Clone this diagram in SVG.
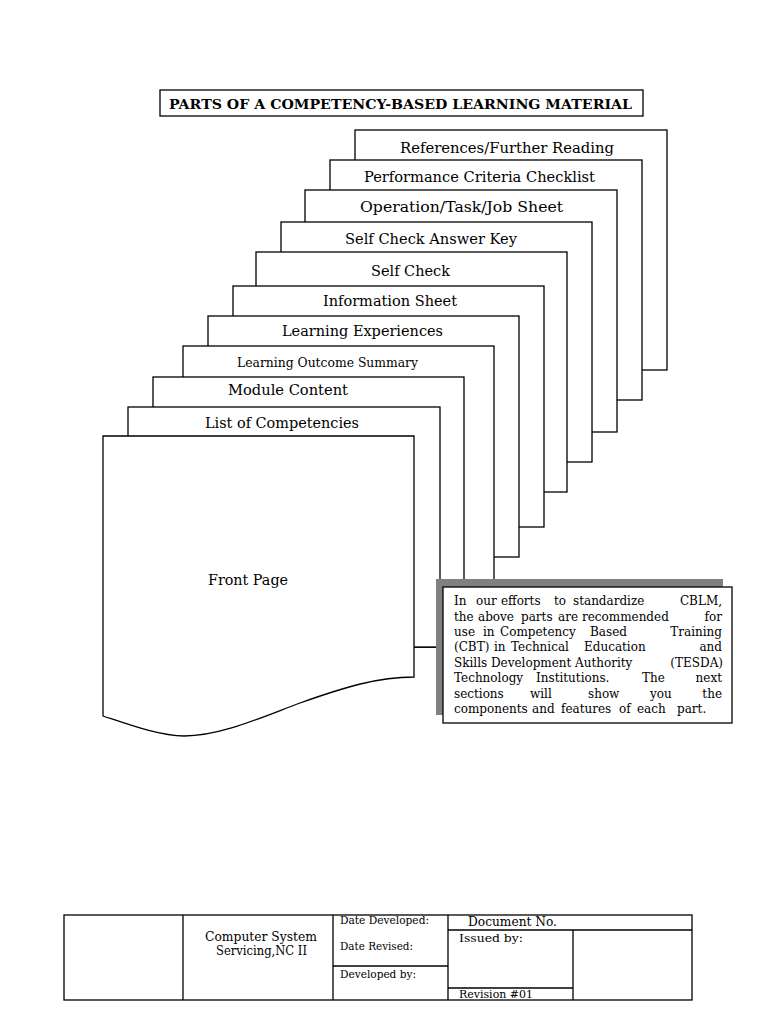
<svg xmlns="http://www.w3.org/2000/svg" width="768" height="1024" viewBox="0 0 768 1024">
<style>
.pg{fill:#fff;stroke:#000;stroke-width:1.3}
.ln{fill:none;stroke:#000;stroke-width:1.3}
.lbl{font-family:"DejaVu Serif","Liberation Serif",serif;font-size:14.5px;fill:#000}
.sm{font-family:"DejaVu Serif","Liberation Serif",serif;font-size:12px;fill:#000}
.ft{font-family:"DejaVu Serif","Liberation Serif",serif;font-size:11px;fill:#000}
.fb{font-family:"DejaVu Serif","Liberation Serif",serif;font-size:12.5px;fill:#000}
.ttl{font-family:"DejaVu Serif","Liberation Serif",serif;font-size:13px;font-weight:bold;fill:#000}
</style>
<rect width="768" height="1024" fill="#fff"/>
<g id="title">
<rect x="160" y="90" width="483" height="26" class="pg"/>
<text x="169" y="109" class="ttl" textLength="463" lengthAdjust="spacingAndGlyphs">PARTS OF A COMPETENCY-BASED LEARNING MATERIAL</text>
</g>
<g id="references">
<rect x="355" y="130" width="312" height="240" class="pg"/>
<text x="400" y="153" class="lbl" textLength="214" lengthAdjust="spacingAndGlyphs">References/Further Reading</text>
</g>
<g id="performance">
<rect x="330" y="160" width="312" height="240" class="pg"/>
<text x="364" y="182" class="lbl" textLength="231" lengthAdjust="spacingAndGlyphs">Performance Criteria Checklist</text>
</g>
<g id="operation">
<rect x="305" y="190" width="312" height="242" class="pg"/>
<text x="360" y="212" class="lbl" textLength="203" lengthAdjust="spacingAndGlyphs">Operation/Task/Job Sheet</text>
</g>
<g id="selfcheck-key">
<rect x="281" y="222" width="311" height="240" class="pg"/>
<text x="345" y="244" class="lbl" textLength="172" lengthAdjust="spacingAndGlyphs">Self Check Answer Key</text>
</g>
<g id="selfcheck">
<rect x="256" y="252" width="311" height="240" class="pg"/>
<text x="371" y="276" class="lbl" textLength="79" lengthAdjust="spacingAndGlyphs">Self Check</text>
</g>
<g id="information-sheet">
<rect x="233" y="286" width="311" height="241" class="pg"/>
<text x="323" y="306" class="lbl" textLength="134" lengthAdjust="spacingAndGlyphs">Information Sheet</text>
</g>
<g id="learning-experiences">
<rect x="208" y="316" width="311" height="241" class="pg"/>
<text x="282" y="336" class="lbl" textLength="161" lengthAdjust="spacingAndGlyphs">Learning Experiences</text>
</g>
<g id="learning-outcome-summary">
<rect x="183" y="346" width="311" height="301" class="pg"/>
<text x="237" y="367" class="sm" textLength="181" lengthAdjust="spacingAndGlyphs">Learning Outcome Summary</text>
</g>
<g id="module-content">
<rect x="153" y="377" width="311" height="270" class="pg"/>
<text x="228" y="395" class="lbl" textLength="120" lengthAdjust="spacingAndGlyphs">Module Content</text>
</g>
<g id="list-of-competencies">
<rect x="128" y="407" width="312" height="240" class="pg"/>
<text x="205" y="428" class="lbl" textLength="154" lengthAdjust="spacingAndGlyphs">List of Competencies</text>
</g>
<g id="front-page">
<path d="M103,436 H414 V677 C378,677 345,687 300,703 C260,718 220,736 184,736 C160,736 130,725 103,716 Z" class="pg"/>
<text x="208" y="585" class="lbl" textLength="80" lengthAdjust="spacingAndGlyphs">Front Page</text>
</g>
<g id="connectors"></g>
<g id="note">
<rect x="436" y="579" width="287" height="136" fill="#808080"/>
<rect x="443" y="587" width="289" height="136" class="pg"/>
<g class="sm">
<text y="605"><tspan x="454">In</tspan><tspan x="476">our</tspan><tspan x="501">efforts</tspan><tspan x="554">to</tspan><tspan x="573">standardize</tspan><tspan x="722" text-anchor="end">CBLM,</tspan></text>
<text y="621"><tspan x="454">the</tspan><tspan x="478">above</tspan><tspan x="521">parts</tspan><tspan x="558">are</tspan><tspan x="582">recommended</tspan><tspan x="722" text-anchor="end">for</tspan></text>
<text y="636"><tspan x="454">use</tspan><tspan x="483">in</tspan><tspan x="500">Competency</tspan><tspan x="590">Based</tspan><tspan x="722" text-anchor="end">Training</tspan></text>
<text y="651"><tspan x="454">(CBT)</tspan><tspan x="494">in</tspan><tspan x="511">Technical</tspan><tspan x="584">Education</tspan><tspan x="722" text-anchor="end">and</tspan></text>
<text y="667"><tspan x="454">Skills</tspan><tspan x="491">Development</tspan><tspan x="575">Authority</tspan><tspan x="723" text-anchor="end">(TESDA)</tspan></text>
<text y="682"><tspan x="454">Technology</tspan><tspan x="536">Institutions.</tspan><tspan x="642">The</tspan><tspan x="722" text-anchor="end">next</tspan></text>
<text y="698"><tspan x="454">sections</tspan><tspan x="530">will</tspan><tspan x="588">show</tspan><tspan x="650">you</tspan><tspan x="722" text-anchor="end">the</tspan></text>
<text y="713"><tspan x="454">components</tspan><tspan x="532">and</tspan><tspan x="561">features</tspan><tspan x="619">of</tspan><tspan x="637">each</tspan><tspan x="677">part.</tspan></text>
</g>
</g>
<g id="footer">
<rect x="64" y="915" width="628" height="85" class="ln"/>
<line x1="183" y1="915" x2="183" y2="1000" class="ln"/>
<line x1="333" y1="915" x2="333" y2="1000" class="ln"/>
<line x1="448" y1="915" x2="448" y2="1000" class="ln"/>
<line x1="573" y1="930" x2="573" y2="1000" class="ln"/>
<line x1="448" y1="930" x2="692" y2="930" class="ln"/>
<line x1="333" y1="966" x2="448" y2="966" class="ln"/>
<line x1="448" y1="988" x2="573" y2="988" class="ln"/>
<text x="205" y="941" class="fb" textLength="112" lengthAdjust="spacingAndGlyphs">Computer System</text>
<text x="216" y="955" class="fb" textLength="91" lengthAdjust="spacingAndGlyphs">Servicing,NC II</text>
<text x="340" y="924" class="ft" textLength="89" lengthAdjust="spacingAndGlyphs">Date Developed:</text>
<text x="340" y="950" class="ft" textLength="73" lengthAdjust="spacingAndGlyphs">Date Revised:</text>
<text x="340" y="978" class="ft" textLength="76" lengthAdjust="spacingAndGlyphs">Developed by:</text>
<text x="468" y="926" class="fb" textLength="89" lengthAdjust="spacingAndGlyphs">Document No.</text>
<text x="459" y="942" class="ft" textLength="64" lengthAdjust="spacingAndGlyphs">Issued by:</text>
<text x="459" y="998" class="ft" textLength="74" lengthAdjust="spacingAndGlyphs">Revision #01</text>
</g>
</svg>
